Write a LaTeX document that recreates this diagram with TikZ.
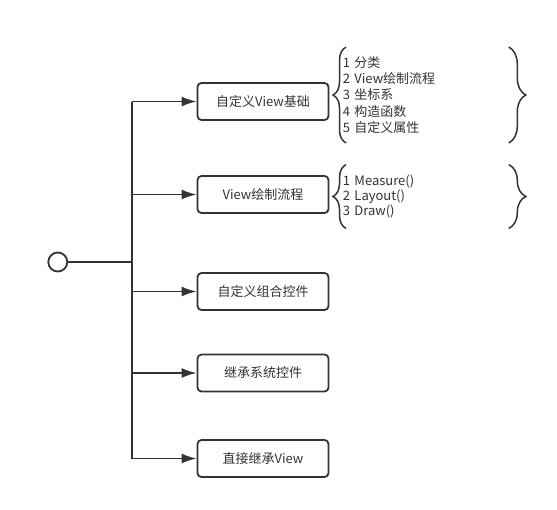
\documentclass[tikz,border=0pt]{standalone}
\usepackage{fontspec}
\setmainfont{Noto Sans CJK SC}
\usetikzlibrary{arrows.meta,positioning,decorations.pathreplacing}
\definecolor{ink}{HTML}{333333}

\begin{document}
\begin{tikzpicture}[
      x=1pt,y=-1pt,
      color=ink,
      line width=1.8pt,
      box/.style={rectangle,draw,rounded corners=4pt,minimum width=131pt,minimum height=37pt,font=\fontsize{13}{15}\selectfont},
      root/.style={circle,draw,minimum size=19pt,inner sep=0pt},
      list/.style={anchor=west,inner sep=0pt,text width=165pt,align=left},
      brc/.style={decorate,decoration={brace,amplitude=#1},line width=1.5pt},
      >={Latex[length=15pt,width=10pt]}
    ]
    \useasboundingbox (0,0) rectangle (557,509);

    % Root and trunk
    \node[root] (root) at (57.8,262) {};
    \coordinate (trunk) at (132.3,262);

    % Branches
    \node[box] (b1) at (263,101.5) {自定义View基础};
    \node[box] (b2) at (263,194.5) {View绘制流程};
    \node[box] (b3) at (263,291.5) {自定义组合控件};
    \node[box] (b4) at (263,373) {继承系统控件};
    \node[box] (b5) at (263,458.5) {直接继承View};

    \draw (root) -- (trunk);
    \draw (b1.west -| trunk) -- (b5.west -| trunk);
    \foreach \n in {1,...,5}
      \draw[->] (b\n.west -| trunk) -- (b\n.west);

    % Notes
    \node[list,minimum height=94pt,font=\fontsize{13}{16.2}\selectfont] (l1) at (342,95)
      {1 分类\\2 View绘制流程\\3 坐标系\\4 构造函数\\5 自定义属性};
    \node[list,minimum height=62pt,font=\fontsize{13}{15}\selectfont] (l2) at (342,196.5)
      {1 Measure()\\2 Layout()\\3 Draw()};

    \foreach \l in {l1,l2} {
      \draw[brc=13pt] ([xshift=4pt]\l.south west) -- ([xshift=4pt]\l.north west);
      \draw[brc=17pt] (\l.north east) -- (\l.south east);
    }
  \end{tikzpicture}
\end{document}
